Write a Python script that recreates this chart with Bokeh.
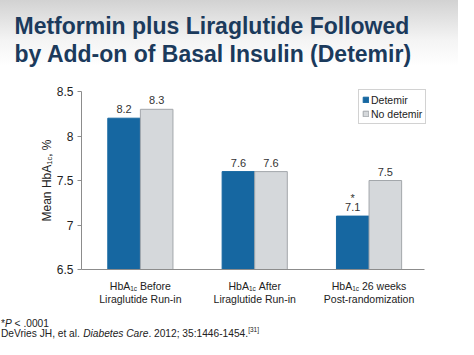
import math
from bokeh.plotting import figure
from bokeh.models import (Range1d, FixedTicker, Label, LabelSet, ColumnDataSource,
                          Legend, LegendItem)
from bokeh.transform import dodge
from bokeh.core.properties import value
from bokeh.embed import file_html
from bokeh.resources import INLINE

# ---------------- data ----------------
title_lines = ["Metformin plus Liraglutide Followed",
               "by Add-on of Basal Insulin (Detemir)"]
cat_line1 = ["Before", "After", "26 weeks"]          # follows "HbA1c"
cat_line2 = ["Liraglutide Run-in", "Liraglutide Run-in", "Post-randomization"]
series_names = ["Detemir", "No detemir"]
detemir = [8.2, 7.6, 7.1]
no_detemir = [8.3, 7.6, 7.5]
detemir_sig = ["", "", "*"]
yticks = [6.5, 7, 7.5, 8, 8.5]
footnote_p = ["*", "P", " < .0001"]
citation = ["DeVries JH, et al. ", "Diabetes Care", ". 2012; 35:1446-1454.", "[31]"]

# ---------------- layout ----------------
W, H = 458, 339
PL, PR, PT, PB = 81, 424, 91, 269       # plot-area edges (figure pixels)
FONT = "Liberation Sans"
BLUE = "#1667a1"
GREY = "#d5d8db"
GREY_LINE = "#a3a7ab"
AXIS = "#8c8c8c"
NAVY = "#1b3a5c"

AW = {' ': 278, '*': 389, ',': 278, '-': 333, '.': 278, ':': 278, ';': 278, '<': 584,
      '[': 278, ']': 278, '%': 889, '(': 333, ')': 333,
      'A': 667, 'B': 667, 'C': 722, 'D': 722, 'H': 722, 'J': 500, 'L': 556, 'M': 833,
      'N': 722, 'P': 667, 'R': 722, 'V': 667,
      'a': 556, 'b': 556, 'c': 500, 'd': 556, 'e': 556, 'f': 278, 'g': 556, 'i': 222,
      'k': 500, 'l': 222, 'm': 833, 'n': 556, 'o': 556, 'p': 556, 'r': 333, 's': 500,
      't': 278, 'u': 556, 'w': 722, 'z': 500}


def tw(s, size):
    return sum(AW.get(ch, 556) for ch in s) * size / 1000.0


def sx(fx):
    return fx


def sy(fy):
    return H - fy


n = len(detemir)
xs = [i + 0.5 for i in range(n)]
bar_w = 0.285
x_lo, x_hi = -0.015, n - 0.015
y_lo, y_hi = yticks[0], yticks[-1]

# the frame spans the whole canvas; data ranges are extended so that the
# chart area [x_lo, x_hi] x [y_lo, y_hi] lands on PL..PR, PT..PB
kx = (x_hi - x_lo) / (PR - PL)
ky = (y_hi - y_lo) / (PB - PT)
p = figure(width=W, height=H, output_backend="svg", toolbar_location=None,
           x_range=Range1d(x_lo - PL * kx, x_hi + (W - PR) * kx),
           y_range=Range1d(y_lo - (H - PB) * ky, y_hi + PT * ky),
           min_border=0)
p.outline_line_color = None
p.xgrid.visible = False
p.ygrid.visible = False
p.background_fill_color = None
p.border_fill_color = None
p.styles = {"background": "linear-gradient(to bottom, #d2d2d2 0px, #f4f4f4 40px, #ffffff 66px)"}

src = ColumnDataSource(dict(
    x=xs, det=detemir, nodet=no_detemir,
    det_lbl=[f"{v:g}" for v in detemir], nodet_lbl=[f"{v:g}" for v in no_detemir],
    sig=detemir_sig, base=[y_lo] * n))

r1 = p.vbar(x=dodge("x", -bar_w / 2), top="det", bottom="base", width=bar_w, source=src,
            fill_color=BLUE, line_color=BLUE)
r2 = p.vbar(x=dodge("x", bar_w / 2), top="nodet", bottom="base", width=bar_w, source=src,
            fill_color=GREY, line_color=GREY_LINE, line_width=1)

for col, xo, yo in (("det_lbl", -bar_w / 2, 5), ("nodet_lbl", bar_w / 2, 5), ("sig", -bar_w / 2, 14)):
    p.add_layout(LabelSet(x=dodge("x", xo), y="det" if col != "nodet_lbl" else "nodet",
                          text=col, source=src, y_offset=yo, text_align="center",
                          text_baseline="alphabetic", text_font=value(FONT),
                          text_font_size=value("11px"), text_color="#333333"))

# axes (drawn at the edges of the chart area)
yax = p.yaxis[0]
yax.fixed_location = x_lo
yax.bounds = (y_lo, y_hi)
yax.ticker = FixedTicker(ticks=yticks)
yax.major_label_overrides = {(int(t) if float(t).is_integer() else t): f"{t:g}" for t in yticks}
yax.axis_line_color = AXIS
yax.major_tick_line_color = AXIS
yax.major_tick_out = 4
yax.major_tick_in = 0
yax.minor_tick_line_color = None
yax.major_label_standoff = 4
yax.major_label_text_font = FONT
yax.major_label_text_font_size = "12px"
yax.major_label_text_color = "#222222"

xax = p.xaxis[0]
xax.fixed_location = y_lo
xax.bounds = (x_lo, x_hi)
xax.ticker = FixedTicker(ticks=[])
xax.axis_line_color = AXIS
xax.major_tick_line_color = None
xax.minor_tick_line_color = None


def add_text(text, x, y, size, style="normal", color="#222222", angle=0.0,
             x_units="screen", x_offset=0.0, font=FONT):
    p.add_layout(Label(x=x, y=y, x_units=x_units, y_units="screen", text=text,
                       x_offset=x_offset, angle=angle, text_align="left",
                       text_baseline="alphabetic", text_font=font,
                       text_font_size=f"{size}px", text_font_style=style,
                       text_color=color))


def rich_h(parts, fx, fy, center=False, x_units="screen", xdata=None):
    total = sum(tw(t, s) for t, s, st, dy in parts)
    cur = -total / 2 if center else 0.0
    for t, s, st, dy in parts:
        body = t.lstrip(" ")
        cur += tw(t[:len(t) - len(body)], s)        # leading spaces as offset
        body = body.rstrip(" ")
        if x_units == "data":
            add_text(body, xdata, sy(fy + dy), s, st, x_units="data", x_offset=cur)
        else:
            add_text(body, sx(fx + cur), sy(fy + dy), s, st)
        cur += tw(t.lstrip(" "), s)


# title
for i, line in enumerate(title_lines):
    add_text(line, sx(14), sy(25.5 + i * 28), 23, "bold", color=NAVY)

# y-axis label (rotated, with subscript)
ylab = [("Mean HbA", 12, "normal", 0), ("1c", 7.5, "normal", 2.5), (", %", 12, "normal", 0)]
tot = sum(tw(t, s) for t, s, st, dy in ylab)
start = (PT + PB) / 2 + tot / 2
cur = 0.0
for t, s, st, dy in ylab:
    add_text(t, sx(46.5 + dy), sy(start - cur), s, st, angle=math.pi / 2)
    cur += tw(t, s)

# category labels
for i in range(n):
    rich_h([("HbA", 10.5, "normal", 0), ("1c", 6.5, "normal", 2),
            (" " + cat_line1[i], 10.5, "normal", 0)], 0, 285.5, center=True,
           x_units="data", xdata=xs[i])
    rich_h([(cat_line2[i], 10.5, "normal", 0)], 0, 298.5, center=True,
           x_units="data", xdata=xs[i])

# footnotes
rich_h([(footnote_p[0], 10.2, "normal", 0), (footnote_p[1], 10.2, "italic", 0),
        (footnote_p[2], 10.2, "normal", 0)], 0.5, 322.5)
rich_h([(citation[0], 10.2, "normal", 0), (citation[1], 10.2, "italic", 0),
        (citation[2], 10.2, "normal", 0), (citation[3], 6.5, "normal", -4)], 0.5, 333.3)

# legend (bottom-left corner given in pixels from the canvas bottom-left)
leg_pad, leg_lh, leg_sp = 3, 13, 1
leg_h = 2 * leg_pad + 2 * leg_lh + leg_sp
legend = Legend(items=[LegendItem(label=series_names[0], renderers=[r1]),
                       LegendItem(label=series_names[1], renderers=[r2])],
                location=(358, H - PT - leg_h), margin=0, padding=leg_pad, spacing=leg_sp,
                glyph_width=7, glyph_height=7, label_standoff=2, label_height=leg_lh,
                label_text_font=FONT, label_text_font_size="10.5px",
                label_text_color="#222222", border_line_color="#a6a6a6",
                border_line_width=1, background_fill_color="white", background_fill_alpha=1)
p.add_layout(legend)

open("out.html", "w").write(file_html(p, INLINE))
